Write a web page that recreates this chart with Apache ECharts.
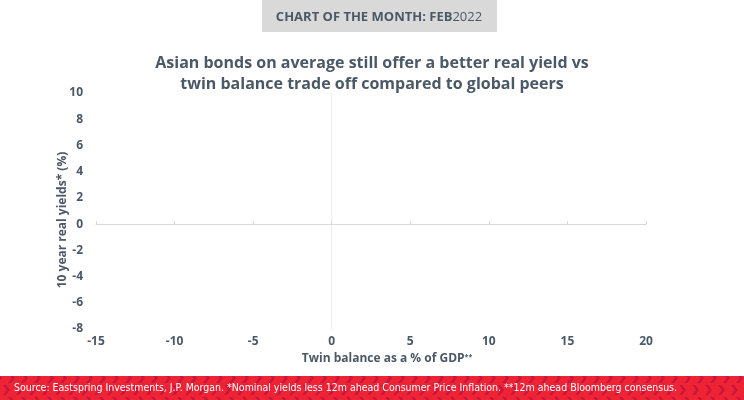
<!DOCTYPE html>
<html>
<head>
<meta charset="utf-8">
<title>Chart of the month</title>
<script src="https://cdn.jsdelivr.net/npm/echarts@6/dist/echarts.min.js"></script>
<style>
  html, body { margin: 0; padding: 0; background: #fff; }
  #chart { width: 744px; height: 400px; }
</style>
</head>
<body>
<div id="chart"></div>
<script>
// axis ranges / ticks
const xRange = [-15, 20]
const xStep = 5
const yRange = [-8, 10]
const yStep = 2
// the reference shows no plotted points
const points = []

const textColor = '#4b5866'
const fontFamily = '"Open Sans", "Noto Sans", sans-serif'

// chevron pattern for the red footer band
function makeChevrons() {
  const c = document.createElement('canvas')
  c.width = 13
  c.height = 24
  const ctx = c.getContext('2d')
  ctx.fillStyle = '#ee2434'
  ctx.fillRect(0, 0, 13, 24)
  ctx.fillStyle = '#c8163e'
  // one filled chevron '>' shape
  const chev = (x, y) => {
    ctx.beginPath()
    ctx.moveTo(x, y)
    ctx.lineTo(x + 3, y)
    ctx.lineTo(x + 7, y + 5)
    ctx.lineTo(x + 3, y + 10)
    ctx.lineTo(x, y + 10)
    ctx.lineTo(x + 4, y + 5)
    ctx.closePath()
    ctx.fill()
  }
  chev(3, 1)
  chev(8, 13)
  chev(-5, 13)
  return c
}

const myChart = echarts.init(document.getElementById('chart'))

const option = {
  animation: false,
  backgroundColor: '#fff',
  textStyle: { fontFamily: fontFamily },
  title: {
    text: 'Asian bonds on average still offer a better real yield vs\ntwin balance trade off compared to global peers',
    left: 'center',
    top: 48,
    textStyle: {
      color: textColor,
      fontSize: 16,
      fontWeight: 'bold',
      lineHeight: 21,
      fontFamily: fontFamily,
    },
  },
  grid: {
    left: 96,
    right: 98,
    top: 93,
    bottom: 71,
  },
  xAxis: [
    {
      // labels at the bottom of the plot
      type: 'value',
      min: xRange[0],
      max: xRange[1],
      interval: xStep,
      position: 'bottom',
      axisLine: { show: false, onZero: false },
      axisTick: { show: false },
      splitLine: { show: false },
      axisLabel: { color: textColor, fontWeight: 'bold', fontSize: 12, margin: 7 },
      name: 'Twin balance as a % of GDP{s|**}',
      nameLocation: 'middle',
      nameGap: 24,
      nameTextStyle: {
        color: textColor,
        fontWeight: 'bold',
        fontSize: 12,
        padding: [0, 0, 0, 32],
        rich: { s: { fontSize: 7, fontWeight: 'bold', color: textColor, verticalAlign: 'top' } },
      },
    },
    {
      // horizontal line through y = 0
      type: 'value',
      min: xRange[0],
      max: xRange[1],
      interval: xStep,
      position: 'bottom',
      axisLine: { show: true, onZero: true, onZeroAxisIndex: 0, lineStyle: { color: '#d9d9d9', width: 1 } },
      axisTick: { show: true, inside: true, length: 3, lineStyle: { color: '#d9d9d9' } },
      axisLabel: { show: false },
      splitLine: { show: false },
    },
  ],
  yAxis: [
    {
      type: 'value',
      min: yRange[0],
      max: yRange[1],
      interval: yStep,
      position: 'left',
      axisLine: { show: false, onZero: false },
      axisTick: { show: false },
      splitLine: { show: false },
      axisLabel: { color: textColor, fontWeight: 'bold', fontSize: 12, margin: 13 },
      name: '10 year real yields* (%)',
      nameLocation: 'middle',
      nameGap: 27,
      nameMoveOverlap: false,
      nameTextStyle: {
        color: textColor,
        fontWeight: 'bold',
        fontSize: 12,
        padding: [0, 18, 0, 0],
      },
    },
    {
      // vertical line through x = 0
      type: 'value',
      min: yRange[0],
      max: yRange[1],
      interval: yStep,
      position: 'left',
      axisLine: { show: true, onZero: true, onZeroAxisIndex: 0, lineStyle: { color: '#ededed', width: 1 } },
      axisTick: { show: false },
      axisLabel: { show: false },
      splitLine: { show: false },
    },
  ],
  series: [
    {
      type: 'scatter',
      data: points,
    },
  ],
  graphic: [
    {
      type: 'rect',
      shape: { x: 262, y: 0, width: 235, height: 32 },
      style: { fill: '#d9d9d9' },
      z: 0,
    },
    {
      type: 'text',
      x: 379,
      y: 17,
      style: {
        text: '{b|CHART OF THE MONTH: FEB}{r|2022}',
        align: 'center',
        verticalAlign: 'middle',
        rich: {
          b: { fontSize: 13, fontWeight: 'bold', fill: textColor, fontFamily: fontFamily },
          r: { fontSize: 13, fontWeight: 'normal', fill: textColor, fontFamily: fontFamily },
        },
      },
      z: 1,
    },
    {
      type: 'rect',
      shape: { x: 0, y: 376, width: 744, height: 24 },
      style: { fill: { image: makeChevrons(), repeat: 'repeat' } },
      z: 0,
    },
    {
      type: 'text',
      x: 14,
      y: 388,
      style: {
        text: 'Source: Eastspring Investments, J.P. Morgan. *Nominal yields less 12m ahead Consumer Price Inflation. **12m ahead Bloomberg consensus.',
        fill: '#fff',
        fontSize: 10.5,
        fontFamily: '"DejaVu Sans Condensed", "Liberation Sans Narrow", sans-serif',
        verticalAlign: 'middle',
      },
      z: 1,
    },
  ],
}

myChart.setOption(option)
</script>
</body>
</html>
